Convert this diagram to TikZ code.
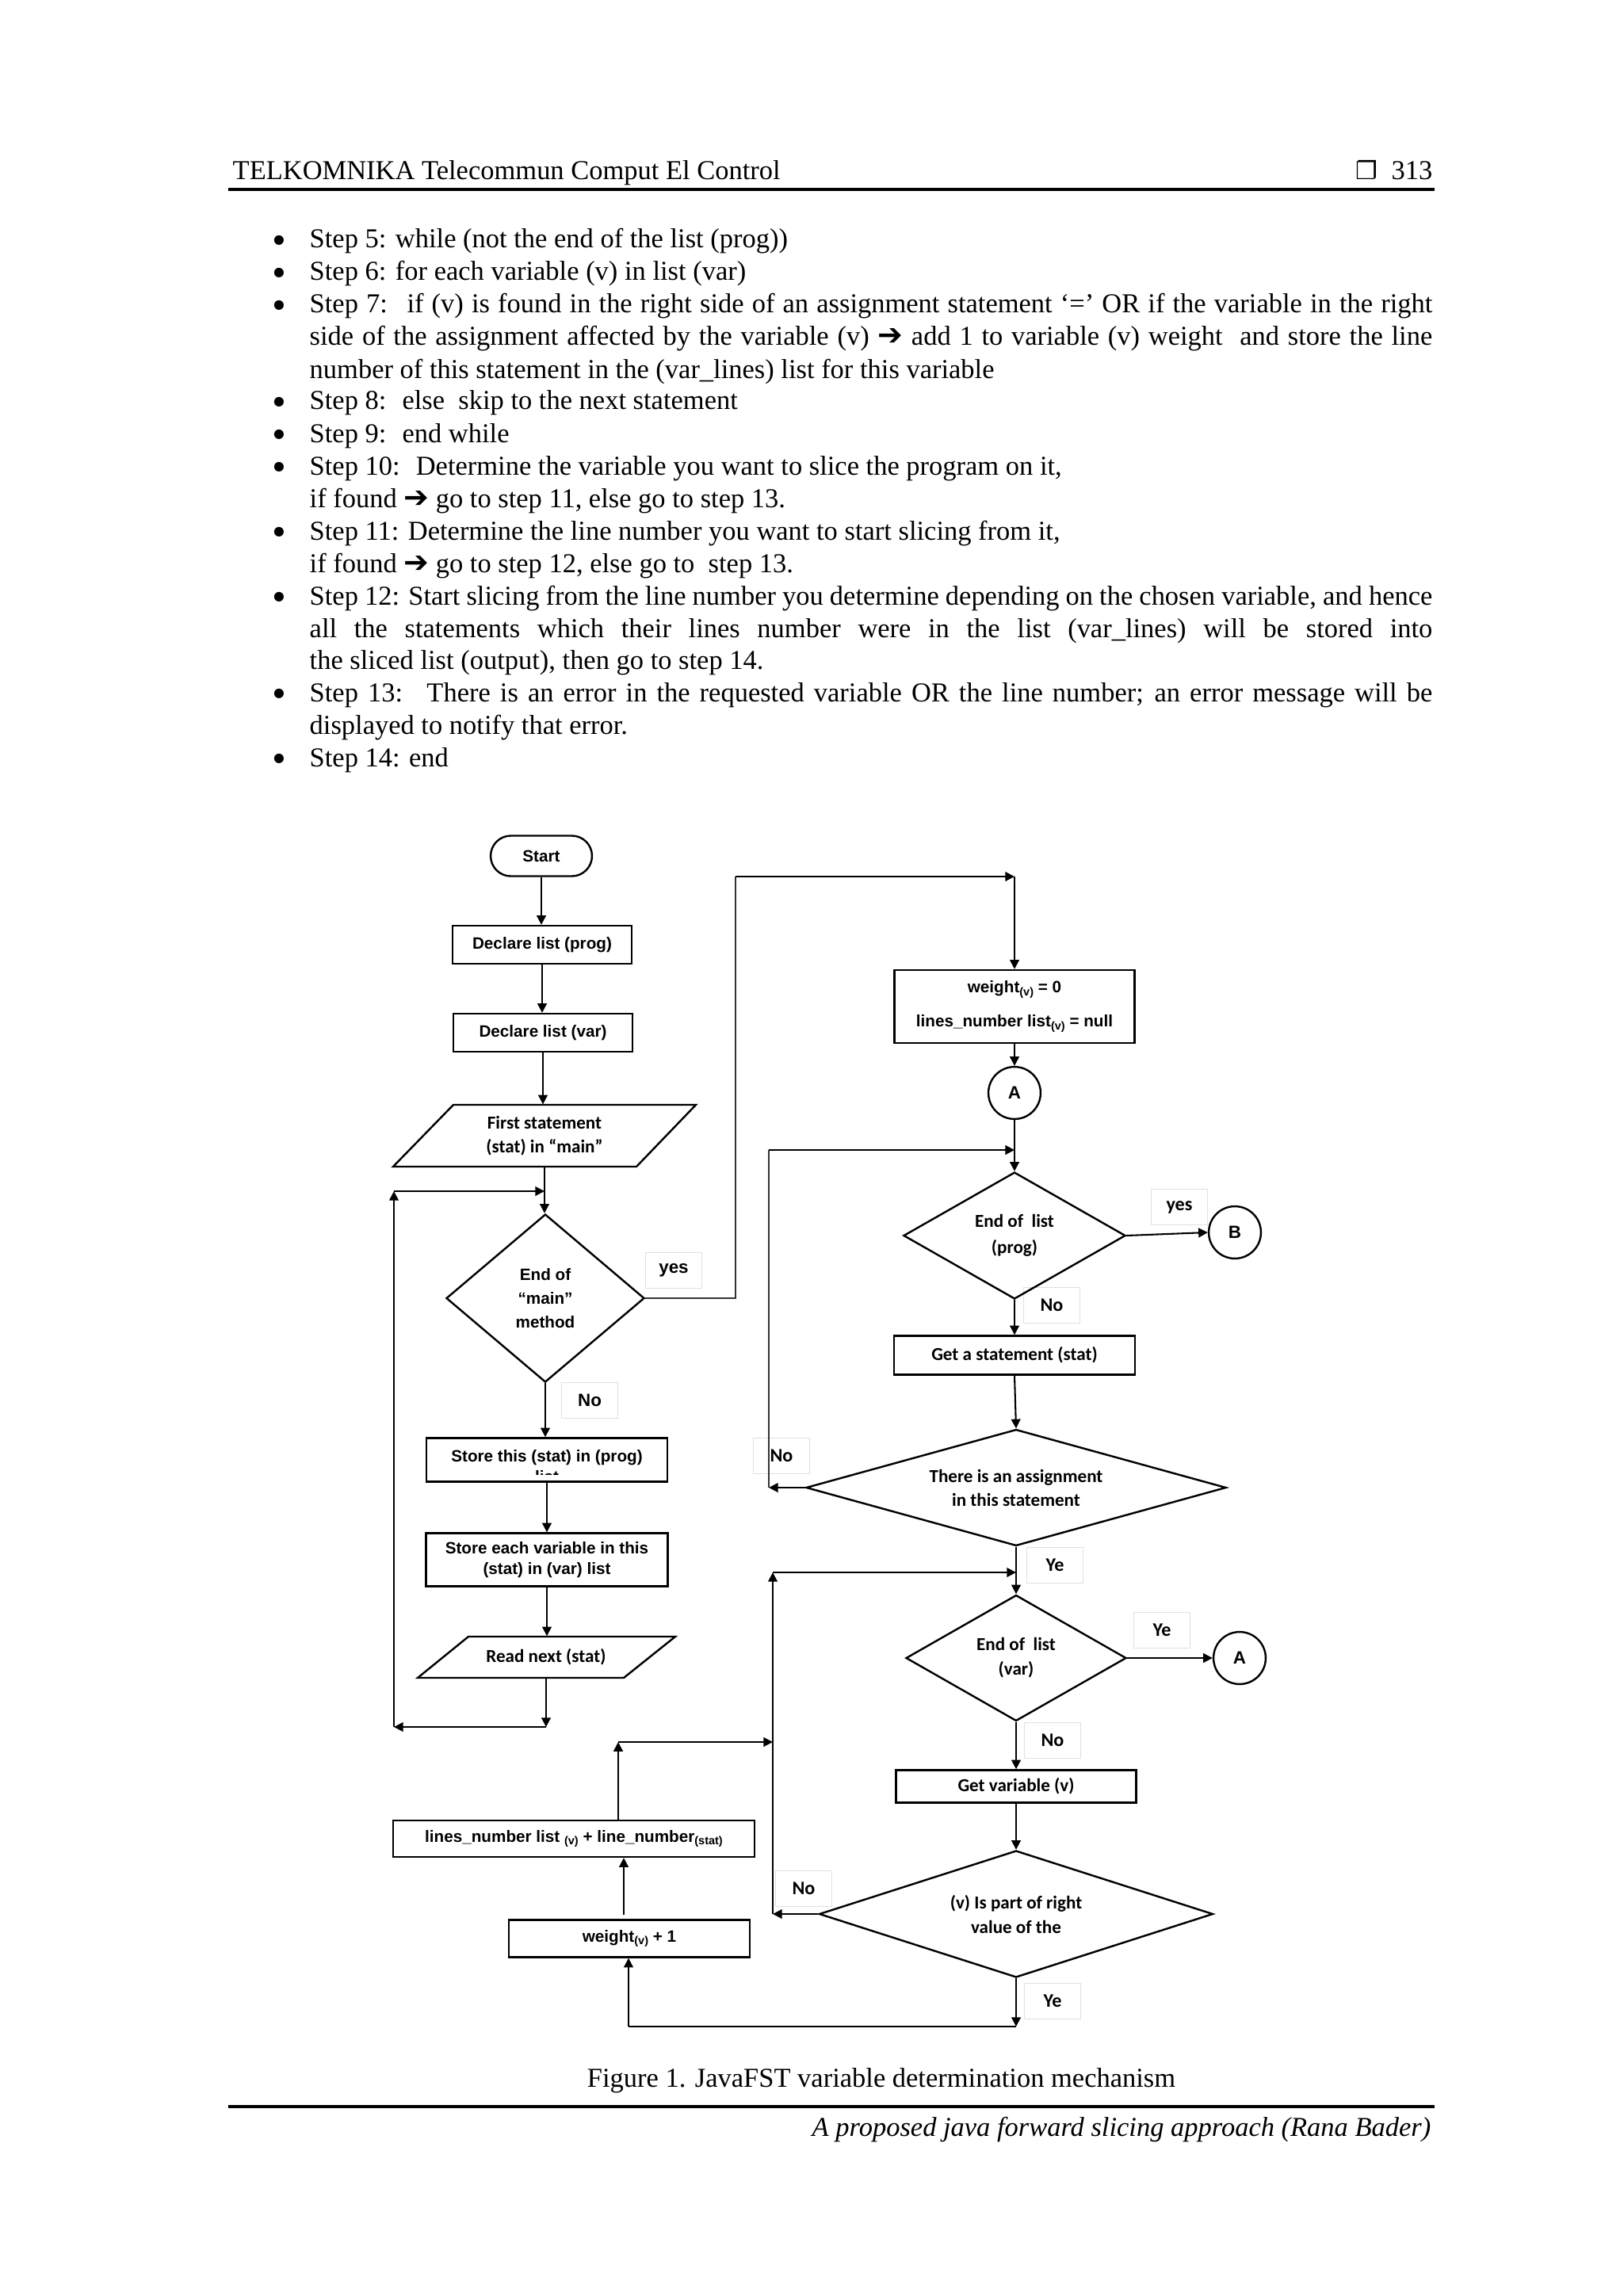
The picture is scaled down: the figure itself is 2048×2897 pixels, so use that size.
\documentclass[tikz,border=0pt]{standalone}
\usepackage{fontspec}
\setmainfont{Liberation Serif}
\newfontfamily\arialf{Liberation Sans}
\newfontfamily\calf{Carlito}
\newfontfamily\djv{DejaVu Sans}
\usetikzlibrary{shapes.geometric,arrows.meta}
\newcommand{\harr}{{\djv\bfseries\fontsize{11}{10}\selectfont ➔}}
\newcommand{\jline}[1]{\makebox[410.8pt][s]{#1}}
\newcommand{\sbs}[1]{\raisebox{-1pt}{\fontsize{4.2}{5}\selectfont #1}}
\begin{document}
\begin{tikzpicture}[x=0.29pt,y=-0.29pt,
  lw/.style={line width=0.6pt},
  arr/.style={line width=0.6pt,-{Triangle[length=3.4pt,width=3.4pt]}},
  bx/.style={draw,line width=0.7pt,inner sep=0,align=center,font=\arialf\bfseries\fontsize{6}{7.5}\selectfont},
  cbx/.style={bx,font=\calf\bfseries\fontsize{6.7}{8.7}\selectfont},
  dia/.style={draw,diamond,line width=0.7pt,inner sep=0,align=center},
  circ/.style={draw,circle,line width=0.7pt,inner sep=0,minimum size=19.1pt,font=\arialf\bfseries\fontsize{6.5}{7}\selectfont},
  lbl/.style={draw=black!12,line width=0.4pt,fill=white,inner sep=0,minimum width=20.6pt,minimum height=13pt,font=\calf\bfseries\fontsize{7}{8}\selectfont},
  lbla/.style={lbl,font=\arialf\bfseries\fontsize{6.5}{8}\selectfont},
  body/.style={anchor=base west,inner sep=0,font=\fontsize{10}{12}\selectfont},
  bul/.style={anchor=center,inner sep=0,font=\djv\fontsize{4.6}{5}\selectfont},
  polyline/.style={line width=0.7pt}
]
\fill[white] (0,0) rectangle (2048,2897);
\useasboundingbox (0,0) rectangle (2048,2897);
% ---------- header ----------
\node[body] (hdr) at (293,227) {TELKOMNIKA Telecommun Comput El Control};
\node[anchor=base east,inner sep=0,font=\fontsize{10}{12}\selectfont] (pg) at (1808,227) {{\djv\bfseries\fontsize{9}{10}\selectfont ❐}\hspace{5pt}313};
\draw[line width=0.9pt] (288,239) -- (1810,239);
% ---------- body text ----------
\node[bul] (u1) at (352,303) {●};
\node[body] (t1) at (390,313) {Step 5: while (not the end of the list (prog))};
\node[bul] (u2) at (352,344) {●};
\node[body] (t2) at (390,354) {Step 6: for each variable (v) in list (var)};
\node[bul] (u3) at (352,385) {●};
\node[body] (t3) at (390,395) {\jline{Step 7:~ if (v) is found in the right side of an assignment statement ‘=’ OR if the variable in the right}};
\node[body] (t4) at (390,436) {\jline{side of the assignment affected by the variable (v) \harr{} add 1 to variable (v) weight~ and store the line}};
\node[body] (t5) at (390,477) {number of this statement in the (var\_lines) list for this variable};
\node[bul] (u6) at (352,507) {●};
\node[body] (t6) at (390,517) {Step 8:~ else~ skip to the next statement};
\node[bul] (u7) at (352,548) {●};
\node[body] (t7) at (390,558) {Step 9:~ end while};
\node[bul] (u8) at (352,589) {●};
\node[body] (t8) at (390,599) {Step 10:~ Determine the variable you want to slice the program on it,};
\node[body] (t9) at (390,640) {if found \harr{} go to step 11, else go to step 13.};
\node[bul] (u10) at (352,671) {●};
\node[body] (t10) at (390,681) {Step 11: Determine the line number you want to start slicing from it,};
\node[body] (t11) at (390,722) {if found \harr{} go to step 12, else go to~ step 13.};
\node[bul] (u12) at (352,753) {●};
\node[body] (t12) at (390,763) {\jline{Step 12: Start slicing from the line number you determine depending on the chosen variable, and hence}};
\node[body] (t13) at (390,804) {\jline{all the statements which their lines number were in the list (var\_lines) will be stored into}};
\node[body] (t14) at (390,844) {the sliced list (output), then go to step 14.};
\node[bul] (u15) at (352,875) {●};
\node[body] (t15) at (390,885) {\jline{Step 13:~ There is an error in the requested variable OR the line number; an error message will be}};
\node[body] (t16) at (390,926) {displayed to notify that error.};
\node[bul] (u17) at (352,957) {●};
\node[body] (t17) at (390,967) {Step 14: end};
% ---------- labels (drawn first) ----------
\node[lbla] (lyes1) at (850,1603) {yes};
\node[lbla] (lno1) at (744,1767) {No};
\node[lbl] (lyes2) at (1488,1523) {yes};
\node[lbl] (lno2) at (1327,1647) {No};
\node[lbl] (lno3) at (986,1837) {No};
\node[lbl] (lye1) at (1331,1975) {Ye};
\node[lbl] (lye2) at (1466,2057) {Ye};
\node[lbl] (lno4) at (1328,2196) {No};
\node[lbl] (lno5) at (1014,2383) {No};
\node[lbl] (lye3) at (1328,2525) {Ye};
% ---------- left column ----------
\node[bx,rounded corners=7.4pt,minimum width=37.1pt,minimum height=14.8pt] (start) at (683,1080) {Start};
\node[bx,minimum width=65.5pt,minimum height=13.9pt] (dprog) at (684,1192) {Declare list (prog)};
\node[bx,minimum width=65.5pt,minimum height=13.9pt] (dvar) at (685,1303) {Declare list (var)};
\draw[polyline] (572,1394) -- (878,1394) -- (803,1472) -- (496,1472) -- cycle;
\node[inner sep=0,minimum width=88.7pt,minimum height=22.6pt,align=center,font=\calf\bfseries\fontsize{6.7}{8.7}\selectfont] (first) at (687,1433) {First statement\\(stat) in “main”};
\node[dia,aspect=1.18,minimum width=72.5pt,minimum height=61.5pt,font=\arialf\bfseries\fontsize{6}{8.7}\selectfont] (dmain) at (688,1638) {End of\\“main”\\method};
\node[bx,minimum width=88.2pt,minimum height=16pt] (store1) at (690,1842) {};
\begin{scope}
\clip (539,1815) rectangle (843,1860);
\node[inner sep=0,align=center,font=\arialf\bfseries\fontsize{6}{7.5}\selectfont] (store1t) at (690,1850) {Store this (stat) in (prog)\\list};
\end{scope}
\node[bx,minimum width=88.5pt,minimum height=19.4pt] (store2) at (690,1968) {Store each variable in this\\(stat) in (var) list};
\draw[polyline] (591,2065) -- (852,2065) -- (787,2117) -- (527,2117) -- cycle;
\node[inner sep=0,minimum width=75.7pt,minimum height=15.1pt,font=\calf\bfseries\fontsize{6.7}{8.7}\selectfont] (readnext) at (689,2091) {Read next (stat)};
% ---------- right column ----------
\node[bx,minimum width=87.9pt,minimum height=26.7pt,font=\arialf\bfseries\fontsize{6}{12.5}\selectfont] (wbox) at (1280,1270) {weight\sbs{(v)} = 0\\lines\_number list\sbs{(v)} = null};
\node[circ] (A1) at (1280,1379) {A};
\node[dia,aspect=1.75,minimum width=81.2pt,minimum height=46.4pt,font=\calf\bfseries\fontsize{6.7}{9.4}\selectfont] (dprogd) at (1280,1559) {End of~ list\\(prog)};
\node[circ] (B) at (1558,1555) {B};
\node[cbx,minimum width=88.2pt,minimum height=14.2pt] (getstat) at (1280,1710) {Get a statement (stat)};
\node[dia,aspect=3.6,minimum width=153.7pt,minimum height=42.6pt,font=\calf\bfseries\fontsize{6.7}{8.7}\selectfont] (dassign) at (1282,1877) {There is an assignment\\in this statement};
\node[dia,aspect=1.75,minimum width=80.6pt,minimum height=46.1pt,font=\calf\bfseries\fontsize{6.7}{9}\selectfont] (dvard) at (1282,2092) {End of~ list\\(var)};
\node[circ] (A2) at (1564,2092) {A};
\node[cbx,minimum width=87.9pt,minimum height=11.9pt] (getvar) at (1282,2254) {Get variable (v)};
\node[dia,aspect=3.1,minimum width=144.1pt,minimum height=46.4pt,font=\calf\bfseries\fontsize{6.7}{9}\selectfont] (dpart) at (1282,2415) {(v) Is part of right\\value of the};
\node[bx,minimum width=132.2pt,minimum height=13.3pt] (lines) at (724,2320) {lines\_number list \sbs{(v)} + line\_number\sbs{(stat)}};
\node[bx,minimum width=88.2pt,minimum height=13.6pt] (wplus) at (794,2446) {weight\sbs{(v)} + 1};
% ---------- coordinates ----------
\coordinate (lb) at (497,2179);
\coordinate (lt) at (497,1503);
\coordinate (y1) at (928,1638);
\coordinate (y2) at (928,1106);
\coordinate (p1) at (970,1877);
\coordinate (p2) at (970,1451);
\coordinate (v1) at (975,2415);
\coordinate (v2) at (975,1984);
\coordinate (q1) at (1282,2557);
\coordinate (q2) at (793,2557);
\coordinate (wp1) at (787,2416);
\coordinate (r1) at (780,2198);
% ---------- left connectors ----------
\draw[arr] (start.south) -- (start.south |- dprog.north);
\draw[arr] (dprog.south) -- (dprog.south |- dvar.north);
\draw[arr] (dvar.south) -- (dvar.south |- first.north);
\draw[arr] (first.south) -- (first.south |- dmain.north);
\draw[arr] (dmain.south) -- (dmain.south |- store1.north);
\draw[arr] (store1.south) -- (store1.south |- store2.north);
\draw[arr] (store2.south) -- (store2.south |- readnext.north);
\draw[arr] (readnext.south) -- (readnext.south |- lb);
\draw[arr] (readnext.south |- lb) -- (lb);
\draw[arr] (lb) -- (lt);
\draw[arr] (lt) -- (lt -| first.south);
% yes branch of main
\draw[lw,black!80] (dmain.east) -- (y1) -- (y2);
\draw[arr] (y2) -- (y2 -| wbox.north);
\draw[arr] (y2 -| wbox.north) -- (wbox.north);
% ---------- right connectors ----------
\draw[arr] (wbox.south) -- (A1.north);
\draw[arr] (A1.south) -- (dprogd.north);
\draw[arr] (dprogd.east) -- (B.west);
\draw[arr] (dprogd.south) -- (getstat.north);
\draw[arr] (getstat.south) -- (dassign.north);
\draw[arr] (dassign.west) -- (p1);
\draw[lw,black!80] (p1) -- (p2);
\draw[arr] (p2) -- (p2 -| dprogd.north);
\draw[arr] (dassign.south) -- (dvard.north);
\draw[arr] (dvard.east) -- (A2.west);
\draw[arr] (dvard.south) -- (getvar.north);
\draw[arr] (getvar.south) -- (dpart.north);
\draw[arr] (dpart.west) -- (v1);
\draw[arr] (v1) -- (v2);
\draw[arr] (v2) -- (v2 -| dvard.north);
\draw[arr] (dpart.south) -- (q1);
\draw[lw] (q1) -- (q2);
\draw[arr] (q2) -- (q2 |- wplus.south);
\draw[arr] (wp1) -- (wp1 |- lines.south);
\draw[arr] (r1 |- lines.north) -- (r1);
\draw[arr] (r1) -- (r1 -| v1);
% ---------- footer ----------
\node[anchor=base,inner sep=0,font=\fontsize{10}{12}\selectfont] (cap) at (1112,2633) {Figure 1. JavaFST variable determination mechanism};
\draw[line width=1pt] (288,2658) -- (1810,2658);
\node[anchor=base east,inner sep=0,font=\itshape\fontsize{10}{12}\selectfont] (ftr) at (1806,2695) {A proposed java forward slicing approach (Rana Bader)};
\end{tikzpicture}
\end{document}
